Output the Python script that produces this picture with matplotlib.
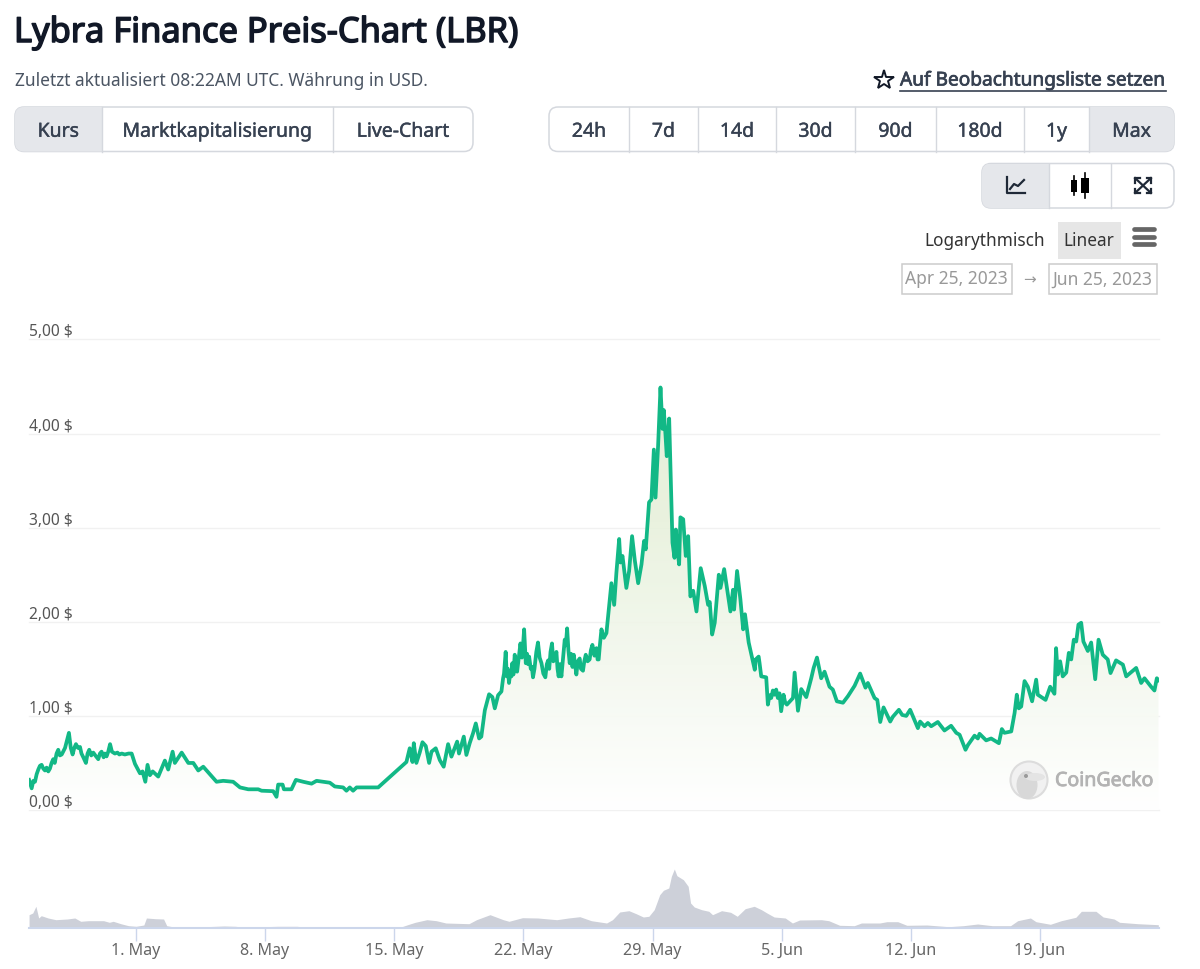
#!/usr/bin/env python3
"""Lybra Finance (LBR) price chart, CoinGecko page look."""
import numpy as np
import matplotlib
matplotlib.use('Agg')
import matplotlib.pyplot as plt
import matplotlib.patheffects as pe
from matplotlib.patches import FancyBboxPatch, Rectangle, Circle, Ellipse
from matplotlib.colors import LinearSegmentedColormap
from matplotlib.path import Path
from matplotlib.patches import PathPatch

plt.rcParams['font.family'] = ['Noto Sans', 'DejaVu Sans']

# x values are days since 25 Apr 2023 00:00, prices in USD
days_a = [0.21, .35, .44, .53, .62, .71, .80, .89, .98, 1.07, 1.16, 1.25, 1.34, 1.43, 1.52, 1.60, 1.70, 1.79, 1.88, 1.98,
          2.16, 2.37, 2.47, 2.57, 2.66, 2.75, 2.86, 2.97, 3.05, 3.15, 3.29, 3.38, 3.47, 3.58, 3.69, 3.80, 3.96, 4.05, 4.14,
          4.25, 4.32, 4.41, 4.50, 4.60, 4.70, 4.86, 5.0, 5.1, 5.23, 5.4, 5.6, 5.77,
          5.95, 6.22, 6.36, 6.51, 6.63, 6.76, 6.91, 7.21, 7.57, 7.75, 7.99,
          8.11, 8.48, 8.84, 9.11, 9.38, 9.65, 10.01, 10.37, 10.73, 11.27, 11.64, 12.09, 12.63, 12.81, 13.44, 13.62,
          13.71, 13.95, 14.02, 14.43, 14.67, 15.07, 15.52, 15.79, 16.51, 16.78, 17.23, 17.41, 17.59, 17.77, 17.96, 19.13]
price_a = [.32, .23, .31, .30, .38, .43, .47, .48, .44, .42, .45, .41, .44, .50, .54, .50, .60, .64, .58, .59,
           .66, .82, .66, .59, .66, .70, .66, .67, .60, .56, .50, .60, .64, .58, .61, .58, .54, .60, .62,
           .56, .60, .57, .62, .70, .62, .60, .61, .59, .60, .59, .60, .60,
           .49, .39, .41, .30, .48, .37, .41, .355, .525, .43, .62,
           .50, .61, .50, .50, .42, .46, .38, .30, .31, .30, .24, .22, .22, .205, .20, .14,
           .27, .27, .22, .22, .32, .30, .28, .31, .29, .25, .24, .205, .24, .205, .24, .24]

days_b = [20.66, 20.84, 20.99, 21.06, 21.20, 21.38, 21.53, 21.71, 21.89, 22.02, 22.25, 22.47, 22.68, 22.92, 23.10,
          23.41, 23.51, 23.77, 23.91, 24.09, 24.27, 24.42, 24.60, 24.72, 24.91, 25.03, 25.14, 25.32, 25.45, 25.63]
price_b = [.51, .656, .51, .71, .50, .61, .72, .68, .50, .62, .656, .53, .46, .70, .567,
           .727, .60, .78, .585, .71, .815, .92, .76, .78, 1.06, 1.15, 1.23, 1.20, 1.08, 1.22]

days_b2 = [25.81, 25.90, 25.95, 26.04, 26.10, 26.16, 26.22, 26.30, 26.35, 26.40, 26.46, 26.53, 26.60, 26.66, 26.75,
           26.84, 26.92, 26.98, 27.04, 27.09, 27.13, 27.20, 27.25, 27.31, 27.40, 27.46, 27.52, 27.60, 27.70, 27.79,
           27.88, 27.98, 28.08, 28.19, 28.27, 28.34, 28.40, 28.47, 28.55, 28.62, 28.70, 28.79, 28.85, 28.91, 28.98,
           29.06, 29.15, 29.24, 29.30, 29.37, 29.44, 29.51, 29.58, 29.66, 29.73, 29.80, 29.87, 29.95, 30.05, 30.12,
           30.23, 30.30, 30.38, 30.48, 30.59, 30.66, 30.74, 30.85, 30.96, 31.02, 31.08]
price_b2 = [1.26, 1.40, 1.45, 1.68, 1.42, 1.50, 1.35, 1.48, 1.42, 1.56, 1.44, 1.65, 1.50, 1.47, 1.62,
            1.77, 1.62, 1.75, 1.92, 1.72, 1.56, 1.66, 1.55, 1.63, 1.50, 1.52, 1.41, 1.50, 1.68, 1.78,
            1.62, 1.56, 1.45, 1.41, 1.55, 1.59, 1.50, 1.68, 1.77, 1.58, 1.60, 1.68, 1.50, 1.42, 1.55,
            1.42, 1.62, 1.81, 1.75, 1.93, 1.70, 1.56, 1.66, 1.52, 1.65, 1.55, 1.44, 1.58, 1.61, 1.50,
            1.48, 1.58, 1.65, 1.58, 1.60, 1.70, 1.755, 1.64, 1.72, 1.60, 1.60]

days_c = [31.14, 31.23, 31.36, 31.50, 31.65, 31.77, 31.92, 32.04, 32.19, 32.26, 32.37, 32.58, 32.73, 32.89, 33.04,
          33.22, 33.40, 33.54, 33.63, 33.81, 33.94, 34.07, 34.16, 34.30, 34.43, 34.54, 34.61, 34.70, 34.77, 34.90,
          34.99, 35.08, 35.19, 35.26, 35.35, 35.44, 35.51, 35.66, 35.80, 35.93, 36.05, 36.20, 36.38, 36.61, 36.83,
          37.01, 37.10, 37.23, 37.37, 37.59, 37.68, 37.88, 38.22, 38.36, 38.42, 38.58, 38.76, 38.91, 39.01, 39.21,
          39.36, 39.54, 39.59, 39.75]
price_c = [1.74, 1.92, 1.83, 1.88, 2.17, 2.41, 2.18, 2.52, 2.88, 2.63, 2.70, 2.36, 2.54, 2.91, 2.65,
           2.41, 2.61, 2.86, 2.77, 3.27, 3.30, 3.83, 3.32, 3.87, 4.49, 4.05, 4.25, 3.99, 3.76, 4.16,
           3.51, 2.84, 2.68, 2.98, 2.77, 2.61, 3.11, 3.09, 2.70, 2.91, 2.27, 2.33, 2.11, 2.57, 2.38,
           2.18, 2.21, 1.865, 1.99, 2.50, 2.36, 2.56, 2.11, 2.34, 2.13, 2.54, 2.24, 1.92, 2.08, 1.78,
           1.65, 1.49, 1.60, 1.63]

days_d = [39.80, 39.89, 40.16, 40.25, 40.34, 40.43, 40.52, 40.61, 40.70, 40.79, 40.88, 40.97, 41.10, 41.19, 41.28,
          41.61, 41.70, 41.88, 42.06, 42.33,
          42.60, 42.73, 42.91, 43.14, 43.32, 43.59, 43.77, 43.99, 44.32, 44.59, 44.95, 45.25, 45.54, 45.67, 46.03,
          46.18, 46.34, 46.52, 46.88, 47.02, 47.35, 47.53, 47.75, 47.96, 48.38, 48.50, 48.74, 48.92, 49.10, 49.46,
          49.82, 50.18, 50.46, 50.64, 50.96, 51.09, 51.45, 51.63, 51.72, 52.08, 52.35, 52.77, 52.93, 53.07, 53.44,
          53.62, 53.74, 53.85, 53.98, 54.16, 54.34, 54.57, 54.79, 54.88, 55.30, 55.55, 55.78, 55.87, 55.96, 56.09,
          56.23, 56.42, 56.56, 56.69, 56.83, 56.96, 57.08, 57.23, 57.35, 57.59, 57.77, 57.99, 58.17, 58.40, 58.67,
          58.82, 59.12, 59.49, 59.67, 60.21, 60.48, 60.66, 61.02, 61.20, 61.33, 61.42]
price_d = [1.56, 1.42, 1.41, 1.12, 1.22, 1.19, 1.27, 1.225, 1.28, 1.19, 1.24, 1.05, 1.225, 1.14, 1.12,
           1.19, 1.46, 1.055, 1.285, 1.20,
           1.40, 1.51, 1.62, 1.40, 1.47, 1.31, 1.28, 1.155, 1.14, 1.21, 1.32, 1.45, 1.30, 1.35, 1.19,
           1.17, .935, 1.09, .94, .99, 1.065, 1.01, 1.00, 1.065, .87, .94, .89, .925, .89, .935,
           .845, .895, .82, .80, .64, .69, .79, .76, .81, .74, .76, .71, .86, .82, .835,
           1.03, 1.225, 1.08, 1.10, 1.37, 1.31, 1.155, 1.385, 1.225, 1.17, 1.31, 1.235, 1.72, 1.44, 1.58,
           1.42, 1.46, 1.67, 1.60, 1.81, 1.79, 1.97, 1.99, 1.79, 1.69, 1.78, 1.39, 1.81, 1.65, 1.60,
           1.455, 1.59, 1.545, 1.42, 1.51, 1.35, 1.40, 1.31, 1.27, 1.40, 1.38]

# traded volume, rough million USD
vol_days = [.21, .41, .58, .73, .87, 1.24, 1.66, 2.28, 2.69, 3.01, 3.42, 4.25, 4.56, 4.77, 5.18, 5.60, 6.01, 6.43,
            6.57, 7.05, 7.50, 7.67, 7.98, 9.33, 10.78, 11.40, 11.82, 13.68, 14.72, 15.34, 20.32, 20.73, 21.14, 21.77,
            22.28, 22.80, 24.05, 24.46, 25.19, 25.91, 26.22, 26.95, 27.78, 28.81, 29.44, 30.06, 30.68, 31.51,
            31.83, 32.22, 32.72, 33.11, 33.50, 33.80, 34.09, 34.39, 34.59, 34.88, 35.02, 35.18, 35.32, 35.67, 35.93,
            36.06, 36.26, 36.66, 37.05, 37.25, 37.74, 38.23, 38.59, 39.02, 39.51, 39.90, 40.20, 40.59, 41.19, 41.58,
            41.97, 43.15, 43.55, 44.14, 44.93, 45.32, 46.31, 46.70, 47.29, 47.78, 48.87, 50.05, 50.84, 51.62, 52.41,
            53.40, 53.79, 54.48, 54.78, 55.56, 56.15, 56.94, 57.24, 58.03, 58.42, 59.01, 59.31, 60.29, 61.41]
vol_usd = [13.3, 15, 21.7, 10, 12.3, 10, 8.3, 9, 10, 6.7, 7.3, 7.3, 5.7, 6.7, 4.3, 2.3, 1.7, 3,
           10, 9.3, 9, 2.3, 1.3, 1, 2, 1.7, .7, 1.7, 1.7, .7, .7, 3.3, 5.7, 8.3,
           7.3, 5, 4.3, 8.3, 13.3, 8.3, 6.7, 10.3, 10, 8.3, 10, 11.3, 7.3, 5,
           8.3, 16, 17.3, 14.3, 11, 11.7, 18.3, 33.3, 37.7, 40, 51.7, 59, 52.3, 48.3, 41.7,
           25, 21, 18.3, 16.7, 13.3, 17.3, 15.7, 11.7, 19.3, 21.7, 18.3, 15, 11, 10, 5,
           8, 8.3, 7.3, 2.7, 2.3, 5, 5, 6.3, 6.3, 2.7, 3, 1.3, 2.3, 4, 2.3,
           2.3, 7.3, 10, 6.3, 3.7, 7.3, 10.7, 16.7, 16.7, 11, 9, 5.7, 4.3, 3.3]

y_ticks = [0, 1, 2, 3, 4, 5]
y_labels = ['0,00 $', '1,00 $', '2,00 $', '3,00 $', '4,00 $', '5,00 $']
x_ticks = [6, 13, 20, 27, 34, 41, 48, 55]
x_labels = ['1. May', '8. May', '15. May', '22. May', '29. May', '5. Jun', '12. Jun', '19. Jun']
x_range = (0.206, 61.42)

W, H = 1200, 969
LINE = '#12b886'
TXT = '#374151'
BORDER = '#d5d8de'
ACTIVE = '#e5e7eb'


def px_axes(fig, x0, x1, y_top, y_bot):
    return fig.add_axes([x0 / W, 1 - y_bot / H, (x1 - x0) / W, (y_bot - y_top) / H])


def fatten(t, w, color):
    # Noto Sans only resolves to its regular cut here, so thicken the outline
    t.set_path_effects([pe.Stroke(linewidth=w, foreground=color), pe.Normal()])
    return t


fig = plt.figure(figsize=(W / 100, H / 100), dpi=100, facecolor='white')

# page furniture, drawn in pixel coordinates
ui = fig.add_axes([0, 0, 1, 1], zorder=3)
ui.set_xlim(0, W)
ui.set_ylim(H, 0)
ui.axis('off')
ui.patch.set_alpha(0)


def button_group(x0, x1, y0, y1, dividers, labels, active):
    edges = [x0] + dividers + [x1]
    box = FancyBboxPatch((x0, y0), x1 - x0, y1 - y0, boxstyle='round,pad=0,rounding_size=9',
                         fc='white', ec=BORDER, lw=1.1)
    ui.add_patch(box)
    a0, a1 = edges[active], edges[active + 1]
    r = Rectangle((a0, y0), a1 - a0, y1 - y0, fc=ACTIVE, ec='none')
    ui.add_patch(r)
    r.set_clip_path(box)
    for d in dividers:
        ui.plot([d, d], [y0, y1], color=BORDER, lw=1)
    for i, lab in enumerate(labels):
        if lab:
            t = ui.text((edges[i] + edges[i + 1]) / 2, (y0 + y1) / 2 + 2.5, lab, ha='center', va='center',
                        fontsize=14, color=TXT)
            fatten(t, 0.3, TXT)


t = ui.text(14, 33, 'Lybra Finance Preis-Chart (LBR)', fontsize=24.8, color='#111827', ha='left', va='center')
fatten(t, 1.1, '#111827')
ui.text(15, 80.5, 'Zuletzt aktualisiert 08:22AM UTC. Währung in USD.', fontsize=12.5, color='#4b5563',
        ha='left', va='center')
ui.plot([884], [80], marker='*', ms=15, mfc='white', mec='#111827', mew=1.4)
t = ui.text(900, 80.5, 'Auf Beobachtungsliste setzen', fontsize=13.75, color=TXT, ha='left', va='center')
fatten(t, 0.5, TXT)
ui.plot([900, 1166], [90.5, 90.5], color=TXT, lw=1.2)

button_group(15, 473, 107, 151.5, [101.5, 333], ['Kurs', 'Marktkapitalisierung', 'Live-Chart'], 0)
button_group(549, 1174, 107, 151.5, [629, 698, 776, 855, 936, 1024, 1089],
             ['24h', '7d', '14d', '30d', '90d', '180d', '1y', 'Max'], 7)
button_group(982, 1174, 163.5, 208, [1048.5, 1111], ['', '', ''], 0)

# line chart icon
ui.plot([1007, 1007, 1025], [177, 193, 193], color='#1f2937', lw=1.6)
ui.plot([1010, 1014, 1018, 1024], [189, 184, 186, 180], color='#1f2937', lw=1.6)
# candlestick icon
ui.plot([1074, 1074], [176, 195], color='black', lw=1.2)
ui.plot([1085, 1085], [173, 198], color='black', lw=1.2)
ui.add_patch(Rectangle((1070.7, 180), 6.5, 12, fc='black', ec='none'))
ui.add_patch(Rectangle((1081, 178), 7.7, 15, fc='black', ec='none'))
# expand icon
ui.plot([1135, 1151], [178, 193], color='#1f2937', lw=1.6)
ui.plot([1151, 1135], [178, 193], color='#1f2937', lw=1.6)
for sx, sy in [(1135, 178), (1151, 178), (1135, 193), (1151, 193)]:
    dx = 4.5 if sx == 1135 else -4.5
    dy = 4.5 if sy == 178 else -4.5
    ui.plot([sx + dx, sx, sx], [sy, sy, sy + dy], color='#1f2937', lw=1.6)

ui.text(1045, 241, 'Logarythmisch', fontsize=12.4, color='#333333', ha='right', va='center')
ui.add_patch(Rectangle((1058, 222), 63, 37, fc='#e6e6e6', ec='none'))
ui.text(1089, 241, 'Linear', fontsize=12.4, color='#333333', ha='center', va='center')
for yb in [229, 236.5, 244]:
    ui.plot([1133.5, 1154], [yb, yb], color='#666666', lw=3.4, solid_capstyle='round')

for x0, x1, lab in [(902, 1012, 'Apr 25, 2023'), (1048.5, 1157, 'Jun 25, 2023')]:
    ui.add_patch(Rectangle((x0, 263.5), x1 - x0, 30, fc='white', ec='#cccccc', lw=1.1))
    ui.text((x0 + x1) / 2 - 0.5, 279.5, lab, fontsize=12.55, color='#999999', ha='center', va='center')
ui.text(1030, 280, '→', fontsize=11, color='#999999', ha='center', va='center', family='DejaVu Sans')

# CoinGecko mark
ui.add_patch(Circle((1029, 780), 18.5, fc='#f1f1f1', ec='#dcdcdc', lw=1.5))
ui.add_patch(Ellipse((1027, 785), 21, 28, fc='#d8d8d8', ec='none'))
ui.add_patch(Ellipse((1035, 777), 20, 8, fc='#e4e4e4', ec='none'))
ui.add_patch(Circle((1026, 776), 2, fc='#9a9a9a', ec='none'))
t = ui.text(1055, 781, 'CoinGecko', fontsize=14.1, color='#b3b3b3', ha='left', va='center')
fatten(t, 0.6, '#b3b3b3')

# price panel
days = np.concatenate([days_a, days_b, days_b2, days_c, days_d])
price = np.concatenate([price_a, price_b, price_b2, price_c, price_d])

ax = px_axes(fig, 29, 1158.5, 339.5, 810)
ax.set_zorder(1)
ax.set_xlim(*x_range)
ax.set_ylim(0, 5)
for side in ax.spines.values():
    side.set_visible(False)
ax.set_xticks([])
ax.set_yticks(y_ticks)
ax.tick_params(axis='y', length=0, labelleft=False)
ax.grid(axis='y', color='#f1f1f1', lw=1)
for g in ax.get_ygridlines():
    g.set_clip_on(False)
ax.set_axisbelow(True)
ax.patch.set_alpha(0)

cmap = LinearSegmentedColormap.from_list('fade', ['#ffffff', '#f3f8ee', '#e8f1dc', '#e3eed5'])
grad = np.linspace(1, 0, 256).reshape(-1, 1)
im = ax.imshow(grad, extent=[x_range[0], x_range[1], 0, 4.6], aspect='auto', cmap=cmap, vmin=0, vmax=1,
               alpha=0.9, zorder=1)
ax.set_xlim(*x_range)
ax.set_ylim(0, 5)
verts = np.vstack([[days[0], 0], np.column_stack([days, price]), [days[-1], 0], [days[0], 0]])
im.set_clip_path(PathPatch(Path(verts), transform=ax.transData))
ax.plot(days, price, color=LINE, lw=2.7, solid_joinstyle='round', zorder=2)

for v, lab in zip(y_ticks, y_labels):
    ax.annotate(lab, (0, v), xycoords=('axes fraction', 'data'), xytext=(0, 7), textcoords='offset pixels',
                fontsize=11.2, color='#555555', ha='left', va='center', annotation_clip=False)

# volume panel
vax = px_axes(fig, 29, 1158.5, 868, 928)
vax.set_zorder(1)
vax.set_xlim(*x_range)
vax.set_ylim(0, 60)
vax.fill_between(vol_days, vol_usd, 0, color='#cdd0d9', lw=0)
for name, side in vax.spines.items():
    side.set_visible(name == 'bottom')
vax.spines['bottom'].set_color('#ccd6eb')
vax.spines['bottom'].set_linewidth(1.5)
vax.set_yticks([])
vax.set_xticks(x_ticks)
vax.set_xticklabels(x_labels, fontsize=11.6, color='#666666')
vax.tick_params(axis='x', length=9, width=1, color='#ccd6eb', pad=2)
vax.patch.set_alpha(0)

fig.savefig('out.png', dpi=100)
